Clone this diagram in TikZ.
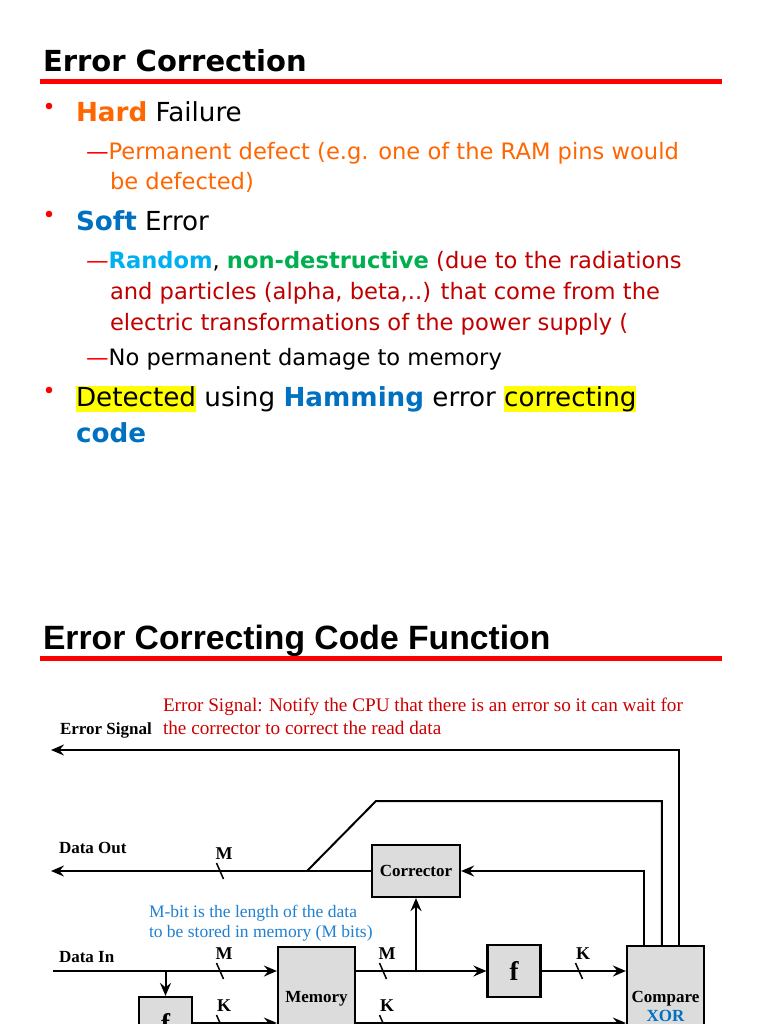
\documentclass[tikz,border=0pt]{standalone}
\usepackage{fontspec}
\usetikzlibrary{arrows.meta,calc}
\setmainfont{DejaVu Sans}
\newfontfamily\ttlfontB{Liberation Sans}
\newfontfamily\tmsfont{Liberation Serif}
\definecolor{hardor}{HTML}{FF6600}
\definecolor{softblue}{HTML}{0070C0}
\definecolor{rndblue}{HTML}{00B0F0}
\definecolor{grn}{HTML}{00B050}
\definecolor{dred}{HTML}{C00000}
\definecolor{dashred}{HTML}{FF0000}
\definecolor{rulered}{HTML}{FF0000}
\definecolor{boxgray}{HTML}{DCDCDC}
\definecolor{diagred}{HTML}{CC0000}
\definecolor{diagblue}{HTML}{2080D0}
\definecolor{xorblue}{HTML}{0070C0}
\definecolor{hlyellow}{HTML}{FFFF00}
\newcommand\szTitleA{\fontsize{29}{34}\selectfont\bfseries}
\newcommand\szBul{\fontsize{26.2}{31}\selectfont}
\newcommand\szSub{\fontsize{22.6}{27}\selectfont}
\newcommand\hlstrut{\rule[-6pt]{0pt}{26pt}}
\newcommand\hl[1]{{\setlength{\fboxsep}{0pt}\colorbox{hlyellow}{\hlstrut#1}}}
\newcommand\busmark[3]{\draw[tick] ({#1-3.5},{#2-8}) -- ({#1+3.5},{#2+8}); \node[lbl] at ({#1+4},{#2-17}) {#3};}
\begin{document}
\begin{tikzpicture}[x=1pt,y=-1pt,
  txt/.style={anchor=base west, inner sep=0pt, outer sep=0pt},
  box/.style={draw, line width=2.2pt, fill=boxgray, inner sep=0pt, font=\tmsfont\bfseries\fontsize{17}{20}\selectfont},
  fbox/.style={box, minimum width=53pt, minimum height=52pt, font=\tmsfont\bfseries\fontsize{27}{30}\selectfont},
  wire/.style={line width=2pt},
  arr/.style={wire, -{Stealth[length=13pt,width=11pt,inset=4.5pt]}},
  lbl/.style={font=\tmsfont\bfseries\fontsize{18}{20}\selectfont, inner sep=0pt},
  tick/.style={line width=1.5pt},
  rule/.style={line width=5pt, rulered},
  dtxt/.style={txt, font=\tmsfont\fontsize{19.2}{22}\selectfont},
  dbold/.style={txt, font=\tmsfont\bfseries\fontsize{17}{20}\selectfont}]
\useasboundingbox (0,0) rectangle (768,1024);
\fill[white] (0,0) rectangle (768,1024);

% ---------- slide 1 ----------
\node[txt, font=\szTitleA] (t1) at (43,72) {Error Correction};
\draw[rule] (40,82) -- (722,82);

\fill[dashred] (49,106) circle (3.3pt);
\node[txt, font=\szBul] (h1) at (76,122) {\textcolor{hardor}{\bfseries Hard} Failure};
\node[txt, font=\szSub, text=hardor] (h2) at (86,160) {\textcolor{dashred}{—}Permanent defect (e.g. one of the RAM pins would};
\node[txt, font=\szSub, text=hardor] (h3) at (110,190) {be defected)};

\fill[dashred] (49,214) circle (3.3pt);
\node[txt, font=\szBul] (s1) at (76,230) {\textcolor{softblue}{\bfseries Soft} Error};
\node[txt, font=\szSub, text=dred] (s2) at (86,268) {\textcolor{dashred}{—}\textcolor{rndblue}{\bfseries Random}\textcolor{black}{,} \textcolor{grn}{\bfseries non-destructive} (due to the radiations};
\node[txt, font=\szSub, text=dred] (s3) at (110,299) {and particles (alpha, beta,..) that come from the};
\node[txt, font=\szSub, text=dred] (s4) at (110,330) {electric transformations of the power supply (};
\node[txt, font=\szSub] (s5) at (86,365) {\textcolor{dashred}{—}No permanent damage to memory};

\fill[dashred] (49,390) circle (3.3pt);
\node[txt, font=\szBul] (d1) at (76,406) {\hl{Detected} using \textcolor{softblue}{\bfseries Hamming} error \hl{correcting}};
\node[txt, font=\szBul] (d2) at (76,442) {\textcolor{softblue}{\bfseries code}};

% ---------- slide 2 ----------
\node[txt, font=\ttlfontB\bfseries\fontsize{33.7}{40}\selectfont] (t2) at (43,649) {Error Correcting Code Function};
\draw[rule] (40,658) -- (722,658);

\node[dbold] (eslbl) at (60,734) {Error Signal};
\node[dtxt, text=diagred] (esn1) at (163,711) {Error Signal: Notify the CPU that there is an error so it can wait for};
\node[dtxt, text=diagred] (esn2) at (163,734) {the corrector to correct the read data};
\node[dbold] (dolbl) at (59,853) {Data Out};
\node[txt, font=\tmsfont\fontsize{17.5}{20}\selectfont, text=diagblue] (mb1) at (149,917) {M-bit is the length of the data};
\node[txt, font=\tmsfont\fontsize{17.5}{20}\selectfont, text=diagblue] (mb2) at (149,937) {to be stored in memory (M bits)};
\node[dbold] (dilbl) at (59,962) {Data In};

\node[box, minimum width=88pt, minimum height=52pt] (cor) at (416,871) {Corrector};
\node[box, minimum width=77pt, minimum height=104pt] (mem) at (316.5,999) {Memory};
\node[fbox] (f2) at (514,971) {f};
\node[box, minimum width=77pt, minimum height=120pt, align=center] (cmp) at (665.5,1006) {Compare\\[-1pt]\textcolor{xorblue}{XOR}};
\node[fbox] (f1) at (165.5,1023) {f};

\coordinate (esEnd) at (51,750);
\coordinate (doEnd) at (51,871);
\coordinate (dinStart) at (53,971);
\coordinate (diagTop) at (376,801);
\coordinate (diagBot) at (307,871);

\draw[arr] ($(cmp.north west)+(53,0)$) |- (esEnd);
\draw[wire] ($(cmp.north west)+(36,0)$) |- (diagTop) -- (diagBot);
\draw[arr] ($(cmp.north west)+(18,0)$) |- (cor.east);
\draw[arr] (cor.west) -- (doEnd);
\draw[arr] (dinStart) -- (dinStart -| mem.west);
\draw[arr] (dinStart -| mem.east) -- (f2.west);
\draw[arr] (f2.east) -- (f2.east -| cmp.west);
\draw[arr] (dinStart -| cor.south) -- (cor.south);
\draw[arr] (dinStart -| f1.north) -- (f1.north);
\draw[arr] (f1.east) -- (f1.east -| mem.west);
\draw[arr] (f1.east -| mem.east) -- (f1.east -| cmp.west);

\busmark{220}{871}{M}
\busmark{220}{971}{M}
\busmark{383}{971}{M}
\busmark{579}{971}{K}
\busmark{220}{1023}{K}
\busmark{383}{1023}{K}
\end{tikzpicture}
\end{document}
